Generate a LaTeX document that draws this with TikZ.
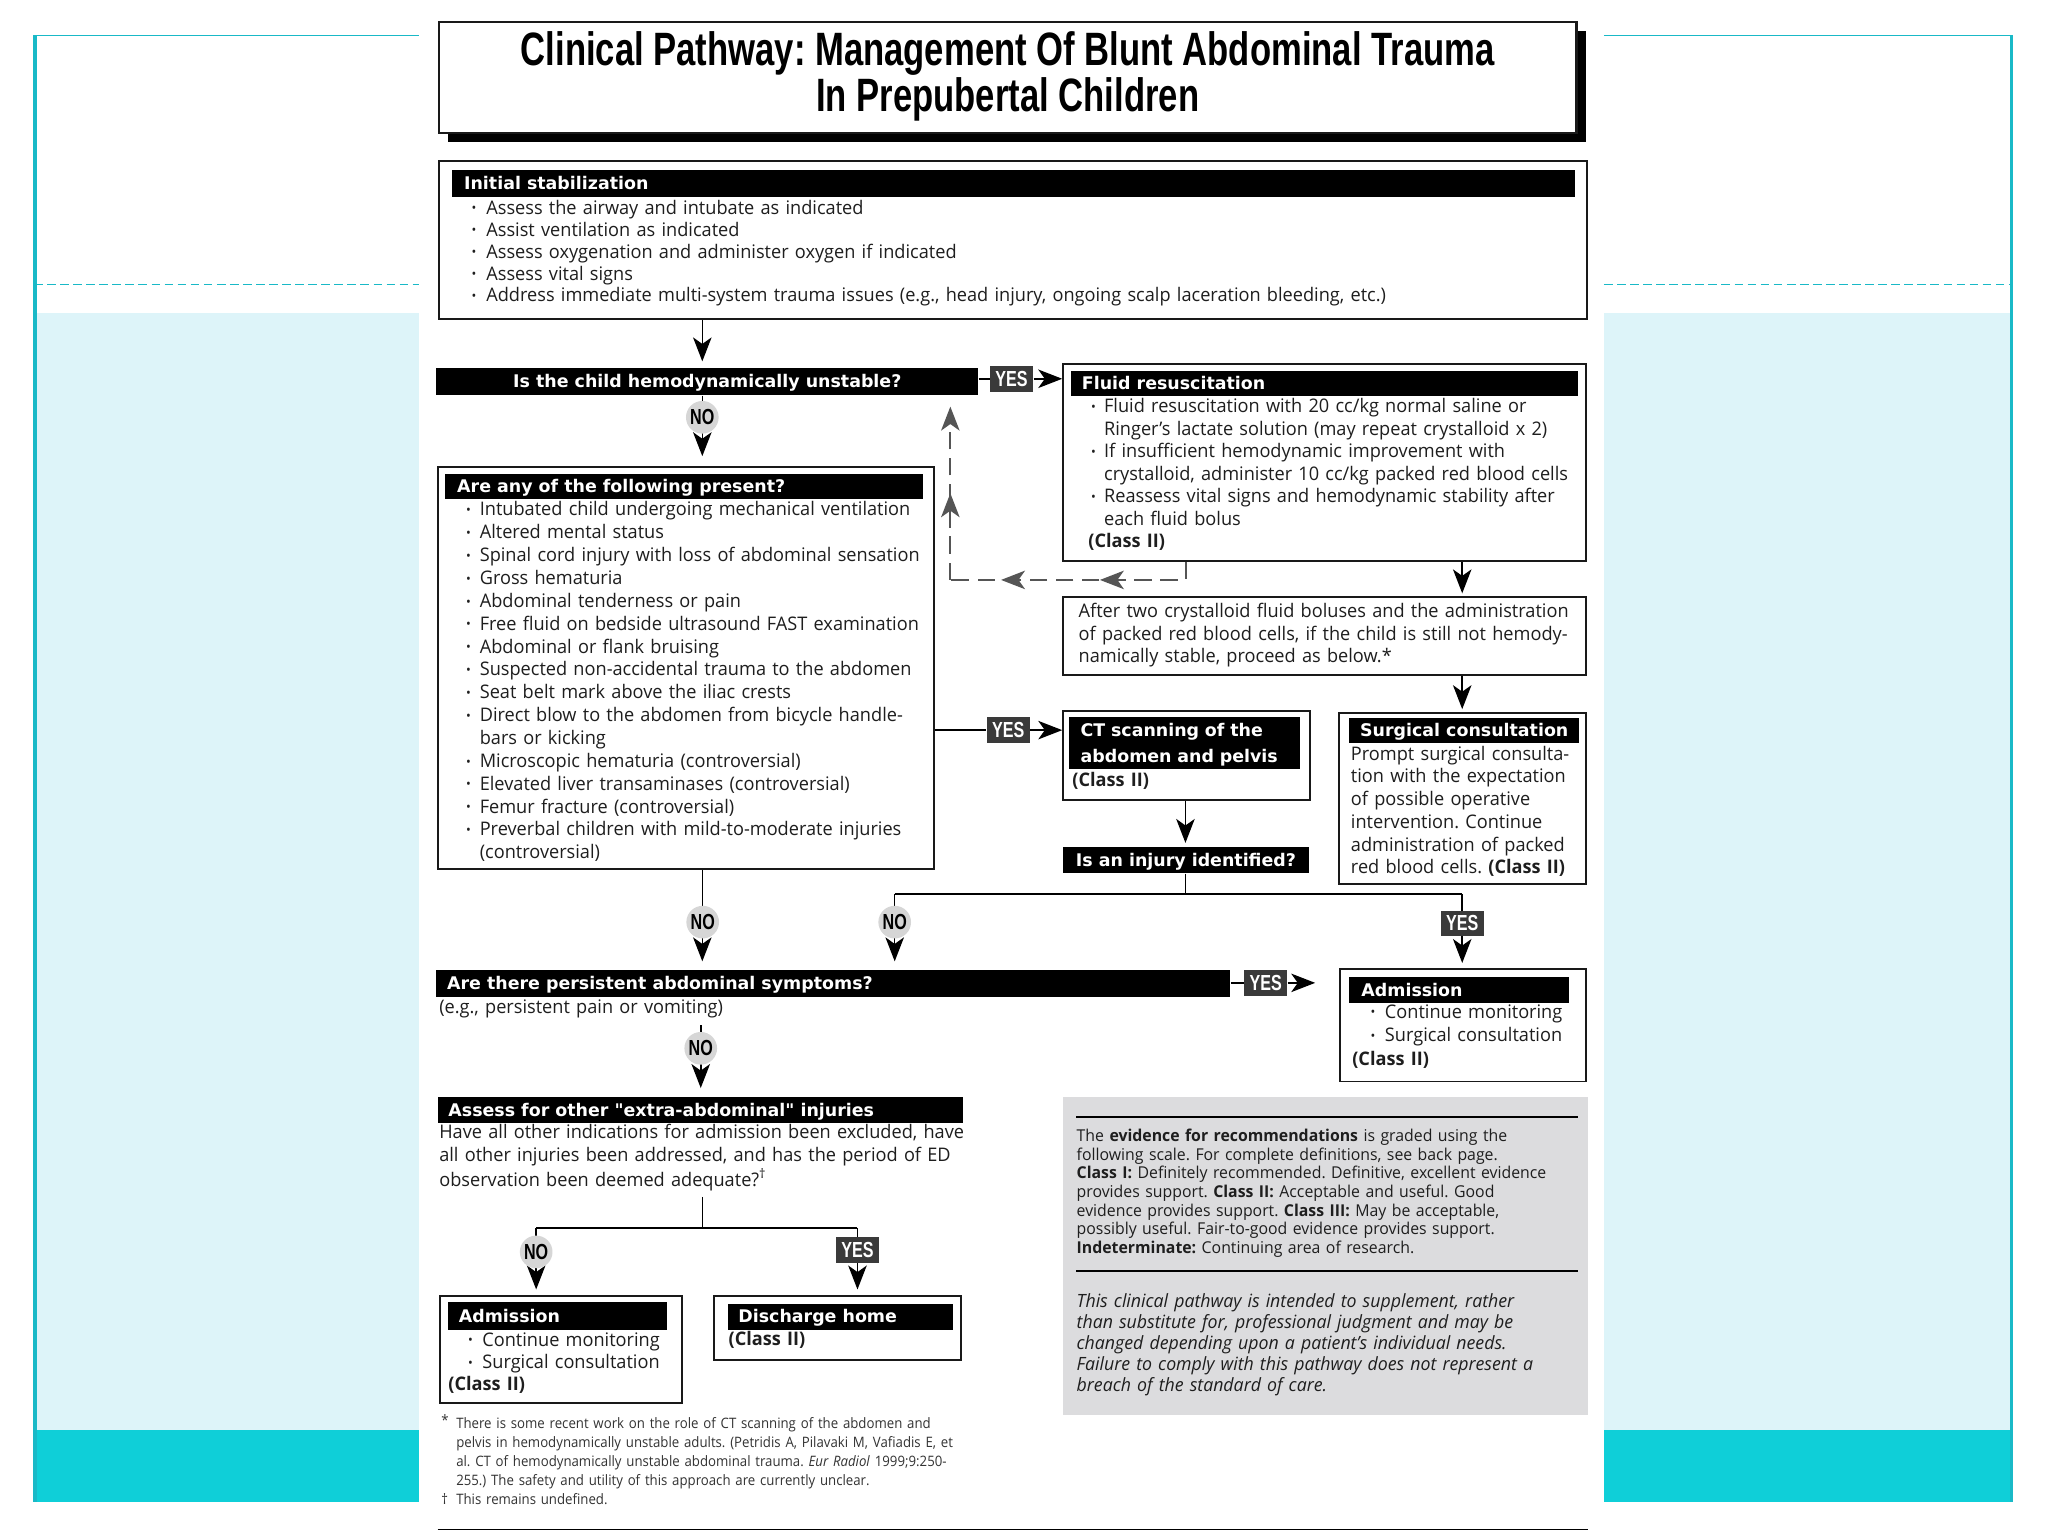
\documentclass[tikz,border=0pt]{standalone}
\usepackage{fontspec}
\usetikzlibrary{arrows.meta,fit,calc,decorations.markings}
\newfontfamily\bodyf[FakeStretch=0.97]{Open Sans}
\newfontfamily\footf[FakeStretch=0.92]{Open Sans}
\newfontfamily\hdf{DejaVu Sans}
\newfontfamily\cndf[FakeStretch=0.74]{Liberation Sans}
\newcommand\fsz[2]{\fontsize{#1}{#2}\selectfont}
\newcommand\bul[1]{\makebox[#1][l]{\raisebox{0.6pt}{\fontsize{6}{6}\selectfont •}}}
\frenchspacing
\definecolor{tealline}{HTML}{19B9C7}
\definecolor{tealband}{HTML}{0FCFD8}
\definecolor{lightblue}{HTML}{DDF4F9}
\definecolor{txtc}{HTML}{1E1E1E}
\definecolor{greybox}{HTML}{DCDCDE}
\definecolor{yesfill}{HTML}{3A3A3A}
\definecolor{nofill}{HTML}{D6D6D6}
\definecolor{dashc}{HTML}{555555}
\pgfdeclarelayer{back}
\pgfdeclarelayer{conn}
\pgfsetlayers{back,conn,main}
\tikzset{
  box/.style={draw=black!90, line width=0.9pt, fill=white, inner sep=0pt},
  hbar/.style={fill=black, inner sep=0pt},
  htxt/.style={text=white, font=\hdf\bfseries\fsz{8}{9.6}, inner sep=0pt, anchor=base west},
  btxt/.style={text=txtc, font=\bodyf\fsz{8.6}{10.4}, inner sep=0pt, anchor=base west, align=left, text width=480pt},
  yeslbl/.style={fill=yesfill, text=white, font=\cndf\bfseries\fsz{10}{10}, inner sep=0pt, minimum width=19.8pt, minimum height=11.7pt},
  nolbl/.style={circle, fill=nofill, text=black, font=\cndf\bfseries\fsz{10}{10}, inner sep=0pt, minimum size=15pt},
  ln/.style={line width=0.7pt, draw=black},
  tip/.style={-{Stealth[length=11pt,width=8.5pt,inset=3pt]}},
  arr/.style={ln, tip},
  dsh/.style={line width=0.8pt, draw=dashc, dash pattern=on 8pt off 4pt},
}
\begin{document}
\begin{tikzpicture}[x=0.6pt,y=-0.6pt]
\useasboundingbox (0,0) rectangle (1568,1176);
\begin{pgfonlayer}{back}
\fill[white] (0,0) rectangle (1568,1176);
\fill[lightblue] (26,240) rectangle (321,1095);
\fill[tealband] (26,1095) rectangle (321,1150);
\draw[tealline, line width=0.6pt] (26,27) -- (321,27);
\draw[tealline, line width=0.5pt, dash pattern=on 4pt off 2pt] (26,218) -- (321,218);
\draw[tealline, line width=1.8pt] (27,27) -- (27,1150);
\fill[lightblue] (1228,240) rectangle (1541,1095);
\fill[tealband] (1228,1095) rectangle (1541,1150);
\draw[tealline, line width=0.6pt] (1228,27) -- (1541,27);
\draw[tealline, line width=0.5pt, dash pattern=on 4pt off 2pt] (1228,218) -- (1541,218);
\draw[tealline, line width=1.8pt] (1540,27) -- (1540,1150);
\end{pgfonlayer}

% title
\fill[black] (343,24) rectangle (1214.5,108.6);
\node[box, line width=1pt, fit={(336,17) (1207,102)}] (titlebox) {};
\node[anchor=base, inner sep=0pt, font=\cndf\bfseries\fsz{21.5}{21.5}] (title1) at (771.5,50) {Clinical Pathway: Management Of Blunt Abdominal Trauma};
\node[anchor=base, inner sep=0pt, font=\cndf\bfseries\fsz{21.5}{21.5}] (title2) at (771.5,85) {In Prepubertal Children};

% initial stabilization
\node[box, fit={(336,123) (1215,244)}] (init) {};
\node[hbar, fit={(346,130) (1206,151)}] (initbar) {};
\node[htxt] (initbar-t) at (355,145.2) {Initial stabilization};
\node[btxt, font=\bodyf\fsz{8.6}{10.08}] (init-t) at (360.7,164) {\bul{6.8pt}Assess the airway and intubate as indicated\\\bul{6.8pt}Assist ventilation as indicated\\\bul{6.8pt}Assess oxygenation and administer oxygen if indicated\\\bul{6.8pt}Assess vital signs\\\bul{6.8pt}Address immediate multi-system trauma issues (e.g., head injury, ongoing scalp laceration bleeding, etc.)};

% question 1
\node[hbar, fit={(334,282) (749,302.5)}] (q1) {};
\node[htxt, anchor=base] (q1-t) at (541.5,297) {Is the child hemodynamically unstable?};

% fluid resuscitation
\node[box, fit={(814,279) (1214,429.5)}] (fluid) {};
\node[hbar, fit={(820,284) (1208,303)}] (fluidbar) {};
\node[htxt] (fluidbar-t) at (828,298.2) {Fluid resuscitation};
\node[btxt, font=\bodyf\fsz{8.6}{10.32}] (fluid-t) at (835,316) {\bul{6pt}Fluid resuscitation with 20 cc/kg normal saline or\\\hspace*{6pt}Ringer’s lactate solution (may repeat crystalloid x 2)\\\bul{6pt}If insufficient hemodynamic improvement with\\\hspace*{6pt}crystalloid, administer 10 cc/kg packed red blood cells\\\bul{6pt}Reassess vital signs and hemodynamic stability after\\\hspace*{6pt}each fluid bolus\\\hspace*{-1.2pt}\textbf{(Class II)}};

% are any present
\node[box, fit={(335,357.5) (715,665)}] (anyq) {};
\node[hbar, fit={(341,363) (707,382)}] (anybar) {};
\node[htxt] (anybar-t) at (349.7,377) {Are any of the following present?};
\node[btxt, font=\bodyf\fsz{8.6}{10.5}] (any-t) at (356.5,395) {\bul{6.3pt}Intubated child undergoing mechanical ventilation\\\bul{6.3pt}Altered mental status\\\bul{6.3pt}Spinal cord injury with loss of abdominal sensation\\\bul{6.3pt}Gross hematuria\\\bul{6.3pt}Abdominal tenderness or pain\\\bul{6.3pt}Free fluid on bedside ultrasound FAST examination\\\bul{6.3pt}Abdominal or flank bruising\\\bul{6.3pt}Suspected non-accidental trauma to the abdomen\\\bul{6.3pt}Seat belt mark above the iliac crests\\\bul{6.3pt}Direct blow to the abdomen from bicycle handle-\\\hspace*{6.3pt}bars or kicking\\\bul{6.3pt}Microscopic hematuria (controversial)\\\bul{6.3pt}Elevated liver transaminases (controversial)\\\bul{6.3pt}Femur fracture (controversial)\\\bul{6.3pt}Preverbal children with mild-to-moderate injuries\\\hspace*{6.3pt}(controversial)};

% after two boluses
\node[box, fit={(814,457) (1214.5,517)}] (after) {};
\node[btxt, font=\bodyf\fsz{8.6}{10.5}] (after-t) at (825.5,472.5) {After two crystalloid fluid boluses and the administration\\of packed red blood cells, if the child is still not hemody-\\namically stable, proceed as below.*};

% surgical consultation
\node[box, fit={(1025,546) (1214.5,677)}] (surg) {};
\node[hbar, fit={(1033,550) (1208.6,569)}] (surgbar) {};
\node[htxt] (surgbar-t) at (1041,564.2) {Surgical consultation};
\node[btxt, font=\bodyf\fsz{8.6}{10.44}] (surg-t) at (1034,582) {Prompt surgical consulta-\\tion with the expectation\\of possible operative\\intervention. Continue\\administration of packed\\red blood cells. \textbf{(Class II)}};

% CT scanning
\node[box, fit={(814,544.5) (1003,612.6)}] (ct) {};
\node[hbar, fit={(818.5,549) (995,589)}] (ctbar) {};
\node[htxt, align=left, text width=200pt, font=\hdf\bfseries\fsz{8}{12}] (ctbar-t) at (827,563.6) {CT scanning of the\\abdomen and pelvis};
\node[btxt] (ct-t) at (820.7,602.4) {\textbf{(Class II)}};

% injury identified
\node[hbar, fit={(814,648.5) (1002,668.6)}] (inj) {};
\node[htxt, anchor=base] (inj-t) at (908,663.3) {Is an injury identified?};

% persistent symptoms
\node[hbar, fit={(334,743) (942,763)}] (persist) {};
\node[htxt] (persist-t) at (342,757.7) {Are there persistent abdominal symptoms?};
\node[btxt] (eg) at (336,776) {(e.g., persistent pain or vomiting)};

% admission right
\node[box, fit={(1026,742) (1214.5,828)}] (adm1) {};
\node[hbar, fit={(1033,748) (1201,768)}] (adm1bar) {};
\node[htxt] (adm1bar-t) at (1042,762.7) {Admission};
\node[btxt, font=\bodyf\fsz{8.6}{10.74}] (adm1-t) at (1035,779.6) {\hspace*{8.4pt}\bul{6.6pt}Continue monitoring\\\hspace*{8.4pt}\bul{6.6pt}Surgical consultation\\\textbf{(Class II)}};

% assess extra-abdominal
\node[hbar, fit={(335,840) (737,860)}] (assess) {};
\node[htxt] (assess-t) at (343,854.7) {Assess for other "extra-abdominal" injuries};
\node[btxt, font=\bodyf\fsz{8.6}{10.44}] (ques) at (336,872) {Have all other indications for admission been excluded, have\\all other injuries been addressed, and has the period of ED\\observation been deemed adequate?\textsuperscript{†}};

% admission lower
\node[box, fit={(337,992) (522,1074)}] (adm2) {};
\node[hbar, fit={(343,997) (511,1018)}] (adm2bar) {};
\node[htxt] (adm2bar-t) at (351,1012.2) {Admission};
\node[btxt, font=\bodyf\fsz{8.6}{10.3}] (adm2-t) at (343,1030.6) {\hspace*{9pt}\bul{6.6pt}Continue monitoring\\\hspace*{9pt}\bul{6.6pt}Surgical consultation\\\textbf{(Class II)}};

% discharge
\node[box, fit={(547,992) (736,1041)}] (disc) {};
\node[hbar, fit={(557,998) (730,1018)}] (discbar) {};
\node[htxt] (discbar-t) at (565,1012.7) {Discharge home};
\node[btxt] (disc-t) at (557.5,1030) {\textbf{(Class II)}};

% grey evidence box
\node[fill=greybox, inner sep=0pt, fit={(814,840) (1216,1083)}] (grey) {};
\draw[line width=0.9pt] (824,855.5) -- (1208,855.5);
\draw[line width=0.9pt] (824,973) -- (1208,973);
\node[btxt, font=\bodyf\fsz{7.5}{8.58}] (grey-t) at (824,874) {The \textbf{evidence for recommendations} is graded using the\\following scale. For complete definitions, see back page.\\\textbf{Class I:} Definitely recommended. Definitive, excellent evidence\\provides support. \textbf{Class II:} Acceptable and useful. Good\\evidence provides support. \textbf{Class III:} May be acceptable,\\possibly useful. Fair-to-good evidence provides support.\\\textbf{Indeterminate:} Continuing area of research.};
\node[btxt, font=\bodyf\itshape\fsz{8.4}{9.66}] (grey-i) at (824,1001) {This clinical pathway is intended to supplement, rather\\than substitute for, professional judgment and may be\\changed depending upon a patient’s individual needs.\\Failure to comply with this pathway does not represent a\\breach of the standard of care.};

% footnotes
\node[btxt, font=\footf\fsz{6.6}{8.7}, text=black!80] (foot) at (337.5,1094) {\makebox[6.9pt][l]{\raisebox{1.5pt}{*}}There is some recent work on the role of CT scanning of the abdomen and\\\hspace*{6.9pt}pelvis in hemodynamically unstable adults. (Petridis A, Pilavaki M, Vafiadis E, et\\\hspace*{6.9pt}al. CT of hemodynamically unstable abdominal trauma. \textit{Eur Radiol} 1999;9:250-\\\hspace*{6.9pt}255.) The safety and utility of this approach are currently unclear.\\\makebox[6.9pt][l]{†}This remains undefined.};
\draw[line width=0.8pt] (335,1171) -- (1216,1171);

% labels
\node[yeslbl] (yes1) at (774.5,290) {YES};
\node[nolbl] (no1) at (537.7,319.5) {NO};
\node[yeslbl] (yes2) at (772,559) {YES};
\node[nolbl] (no2) at (538,706) {NO};
\node[nolbl] (no3) at (685,706) {NO};
\node[yeslbl] (yes3) at (1119.5,707) {YES};
\node[yeslbl] (yes4) at (969,752.5) {YES};
\node[nolbl] (no4) at (536.5,802.6) {NO};
\node[nolbl] (no5) at (410.5,958.5) {NO};
\node[yeslbl] (yes5) at (656.5,957) {YES};

% helper coordinates
\coordinate (xa) at (537.7,0);
\coordinate (xd) at (908,0);
\coordinate (xe) at (727.6,0);
\coordinate (xf) at (1119.5,0);
\coordinate (xg) at (907.6,0);
\coordinate (xh) at (536.5,0);
\coordinate (dl) at (727.6,444);
\coordinate (brL) at (685,684.5);
\coordinate (brR) at (1119.5,684.5);
\coordinate (brM) at (538,940);
\coordinate (brML) at (410.5,940);
\coordinate (brMR) at (656.5,940);

\begin{pgfonlayer}{conn}
\draw[arr, shorten >=3pt] (init.south -| xa) -- (q1.north -| xa);
\draw[ln] (q1.east |- yes1.west) -- (yes1.west);
\draw[arr] (yes1.east) -- (fluid.west |- yes1.east);
\draw[arr, shorten >=4.5pt] (q1.south -| xa) -- (anyq.north -| xa);
\draw[dsh, postaction={decorate}, decoration={markings,
   mark=at position 0.41 with {\arrow{Stealth[length=11pt,width=8.5pt,inset=3pt]}},
   mark=at position 0.80 with {\arrow{Stealth[length=11pt,width=8.5pt,inset=3pt]}}}]
   (fluid.south -| xd) |- (dl);
\draw[dsh, tip, postaction={decorate}, decoration={markings,
   mark=at position 0.5 with {\arrow{Stealth[length=11pt,width=8.5pt,inset=3pt]}}}]
   (dl) -- ($(q1.south -| xe)+(0,8.5)$);
\draw[arr, shorten >=1.2pt] (fluid.south -| xf) -- (after.north -| xf);
\draw[arr, shorten >=1.4pt] (after.south -| xf) -- (surg.north -| xf);
\draw[ln] (anyq.east |- yes2.west) -- (yes2.west);
\draw[arr] (yes2.east) -- (ct.west |- yes2.east);
\draw[arr, shorten >=1.7pt] (ct.south -| xg) -- (inj.north -| xg);
\draw[ln] (inj.south -| xg) -- (xg |- brL);
\draw[ln] (brL) -- (brR);
\draw[arr, shorten >=4pt] (brL) -- (persist.north -| brL);
\draw[arr, shorten >=2.4pt] (brR) -- (adm1.north -| brR);
\draw[arr, shorten >=4pt] (anyq.south -| xa) -- (persist.north -| xa);
\draw[ln] (persist.east |- yes4.west) -- (yes4.west);
\draw[arr, shorten >=11pt] (yes4.east) -- (adm1.west |- yes4.east);
\draw[arr, shorten >=4pt] ($(eg.south -| xh)+(0,5)$) -- (assess.north -| xh);
\draw[ln] ($(ques.south -| brM)+(0,4)$) -- (brM);
\draw[ln] (brML) -- (brMR);
\draw[arr, shorten >=2.4pt] (brML) -- (adm2.north -| brML);
\draw[arr, shorten >=2.4pt] (brMR) -- (disc.north -| brMR);
\end{pgfonlayer}
\end{tikzpicture}
\end{document}
